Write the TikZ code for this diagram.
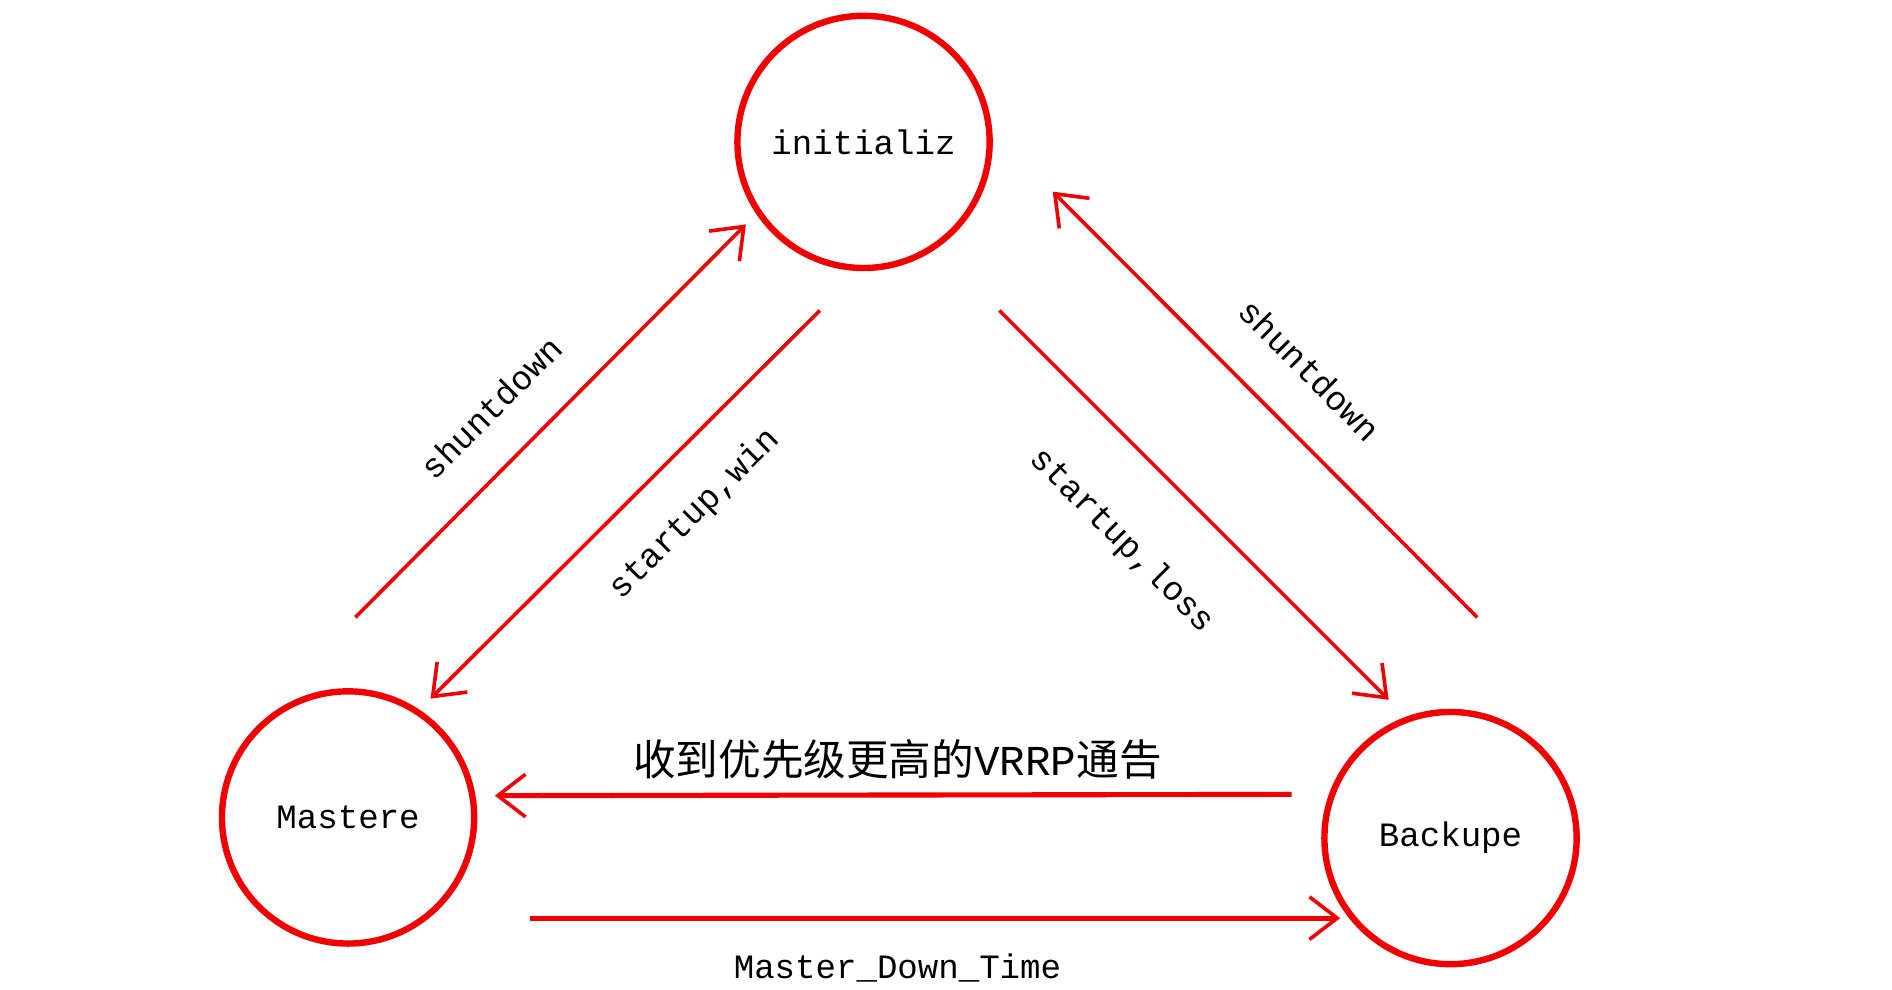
\documentclass[tikz,border=0pt]{standalone}
\usepackage{fontspec}
\setmainfont{Liberation Mono}
\newfontfamily\cjk{Noto Sans CJK SC}
\usetikzlibrary{arrows.meta}
\definecolor{rd}{RGB}{240,0,0}
\begin{document}
\begin{tikzpicture}[x=0.02cm,y=-0.02cm,
  st/.style={circle,draw=rd,line width=3pt,minimum size=4.16cm,inner sep=0pt,font=\fontsize{16}{18}\selectfont},
  ar/.style={draw=rd,line width=1.7pt,-{Straight Barb[length=13pt,width=20pt,line width=1.7pt]}},
  lab/.style={font=\fontsize{16}{18}\selectfont,inner sep=1pt}]
\useasboundingbox (0,0) rectangle (1560,816);
\node[st] (init) at (712,117) {initializ};
\node[st] (mast) at (287,674) {Mastere};
\node[st] (back) at (1196,691) {Backupe};
\coordinate (a1) at (293,509); \coordinate (a2) at (615,185);
\coordinate (b1) at (676,256); \coordinate (b2) at (355,576);
\coordinate (c1) at (824,256); \coordinate (c2) at (1145,577);
\coordinate (d1) at (1218,509); \coordinate (d2) at (868,158);
\coordinate (e1) at (1065,655); \coordinate (e2) at (408,656);
\coordinate (f1) at (437,757); \coordinate (f2) at (1105,757);
\draw[ar] (a1) -- (a2);
\draw[ar] (b1) -- (b2);
\draw[ar] (c1) -- (c2);
\draw[ar] (d1) -- (d2);
\draw[ar,line width=2.4pt] (e1) -- (e2);
\draw[ar,line width=2.4pt] (f1) -- (f2);
\node[lab,rotate=45] (l1) at (405,336) {shuntdown};
\node[lab,rotate=45] (l2) at (573,424) {startup,win};
\node[lab,rotate=-45] (l3) at (925,446) {startup,loss};
\node[lab,rotate=-45] (l4) at (1080,305) {shuntdown};
\node[inner sep=1pt,font=\fontsize{20}{22}\selectfont] (l5) at (740,626) {{\cjk 收到优先级更高的}VRRP{\cjk 通告}};
\node[lab] (l6) at (740,798) {Master\_Down\_Time};
\end{tikzpicture}
\end{document}
